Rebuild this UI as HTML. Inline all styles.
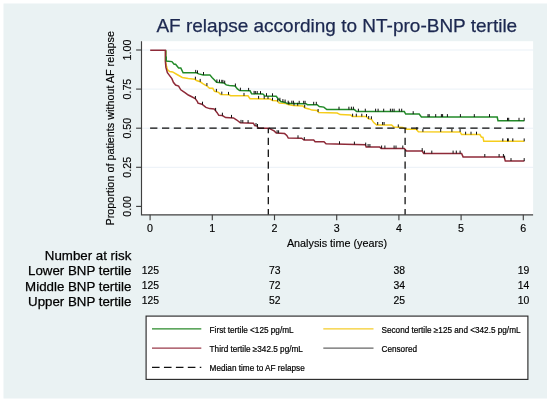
<!DOCTYPE html>
<html><head><meta charset="utf-8"><title>AF relapse according to NT-pro-BNP tertile</title>
<style>html,body{margin:0;padding:0;background:#fff}body{width:550px;height:402px;overflow:hidden}</style></head>
<body>
<svg width="550" height="402" viewBox="0 0 550 402" style="display:block" font-family="'Liberation Sans', Arial, Helvetica, sans-serif">
<rect x="0" y="0" width="550" height="402" fill="#ffffff"/>
<rect x="3.5" y="3.5" width="543.5" height="395" fill="#eaf2f3"/>
<rect x="141.5" y="41.2" width="391.6" height="173.8" fill="#ffffff"/>
<line x1="141.5" x2="533.1" y1="167.3" y2="167.3" stroke="#eaf1f7" stroke-width="1"/>
<line x1="141.5" x2="533.1" y1="128.2" y2="128.2" stroke="#eaf1f7" stroke-width="1"/>
<line x1="141.5" x2="533.1" y1="89.1" y2="89.1" stroke="#eaf1f7" stroke-width="1"/>
<line x1="141.5" x2="533.1" y1="50.0" y2="50.0" stroke="#eaf1f7" stroke-width="1"/>
<g stroke="#404040" stroke-width="1.15" fill="none">
<path d="M141.5,41.2V214.8H533.1"/>
<path d="M141.5,206.4h-5.4"/>
<path d="M141.5,167.3h-5.4"/>
<path d="M141.5,128.2h-5.4"/>
<path d="M141.5,89.1h-5.4"/>
<path d="M141.5,50.0h-5.4"/>
<path d="M150.1,214.8v5.4"/>
<path d="M212.3,214.8v5.4"/>
<path d="M274.5,214.8v5.4"/>
<path d="M336.7,214.8v5.4"/>
<path d="M398.9,214.8v5.4"/>
<path d="M461.1,214.8v5.4"/>
<path d="M523.3,214.8v5.4"/>
</g>
<g font-size="10.7" fill="#000" stroke="#000" stroke-width="0.15" text-anchor="middle">
<text transform="translate(131.2,206.4) rotate(-90)">0.00</text>
<text transform="translate(131.2,167.3) rotate(-90)">0.25</text>
<text transform="translate(131.2,128.2) rotate(-90)">0.50</text>
<text transform="translate(131.2,89.1) rotate(-90)">0.75</text>
<text transform="translate(131.2,50.0) rotate(-90)">1.00</text>
<text x="150.1" y="231.6">0</text>
<text x="212.3" y="231.6">1</text>
<text x="274.5" y="231.6">2</text>
<text x="336.7" y="231.6">3</text>
<text x="398.9" y="231.6">4</text>
<text x="461.1" y="231.6">5</text>
<text x="523.3" y="231.6">6</text>
</g>
<text transform="translate(113.5,128.2) rotate(-90)" font-size="10.8" text-anchor="middle" fill="#000" stroke="#000" stroke-width="0.15">Proportion of patients without AF relapse</text>
<text x="337" y="247" font-size="10.8" text-anchor="middle" fill="#000" stroke="#000" stroke-width="0.15">Analysis time (years)</text>
<text x="336.8" y="32" font-size="19" text-anchor="middle" fill="#1c2850" stroke="#1c2850" stroke-width="0.25">AF relapse according to NT-pro-BNP tertile</text>
<path d="M165.6,50.3L165.6,62.0L166.5,66.0L167.4,69.6L169.6,71.6L172.6,71.9L177.0,74.5L182.3,77.5L188.3,78.6L195.0,79.3L196.5,80.5L200.2,81.8L203.2,83.8L207.0,86.0L209.5,88.3L212.8,88.3L214.5,91.3L218.6,92.4L220.6,94.4L229.0,94.8L230.5,95.7L248.0,95.8L250.0,98.7L270.2,99.0L272.5,100.5L276.9,100.8L279.2,103.1L285.9,103.5L288.1,104.5L293.2,105.6L302.9,105.9L305.1,108.1L308.9,108.9L311.9,110.1L317.1,110.4L318.6,112.6L337.2,113.0L340.2,114.6L350.7,114.9L352.2,116.6L366.2,116.6L368.4,118.9L371.4,119.2L373.7,122.6L376.6,124.9L391.6,124.9L393.8,127.1L402.8,127.5L406.5,129.2L416.2,129.2L418.4,131.8L460.1,131.9L461.6,134.6L479.9,134.6L481.4,137.1L483.0,137.4L483.8,141.3L524.4,141.3" stroke="#f6cd1c" stroke-width="1.5" fill="none" stroke-linejoin="miter"/>
<path d="M165.8,50.3L165.8,61.1L171.9,61.6L174.1,64.2L175.6,64.2L178.6,67.9L180.8,67.9L183.1,72.8L196.5,72.8L198.7,73.9L203.2,74.9L209.9,74.9L212.0,77.5L214.0,79.5L216.6,82.3L224.0,82.9L226.2,84.9L229.2,85.6L235.1,86.0L237.4,88.9L239.6,90.6L250.1,90.8L251.6,93.8L262.8,94.0L265.0,96.1L276.2,96.3L278.4,99.0L280.7,101.6L285.1,102.4L287.2,103.6L305.9,103.7L307.4,104.7L317.1,104.7L319.3,106.6L323.8,107.1L326.8,109.6L354.4,109.6L356.6,111.6L404.3,111.6L405.7,114.1L419.2,114.1L421.4,117.0L497.2,117.0L498.0,120.7L524.4,120.7" stroke="#228a28" stroke-width="1.5" fill="none" stroke-linejoin="miter"/>
<path d="M150.2,50.3L165.4,50.3L165.4,61.4L165.9,67.4L167.4,72.6L169.6,75.6L171.9,78.6L173.4,82.3L175.6,85.0L178.6,86.0L180.8,89.8L183.1,91.3L185.3,92.8L188.3,95.0L191.3,96.5L195.2,98.6L197.4,101.5L198.0,103.1L202.0,104.2L205.9,107.4L209.6,108.6L214.1,108.9L217.1,112.7L218.8,115.3L222.4,115.6L225.6,117.6L233.5,117.9L236.8,120.0L240.3,122.8L253.4,123.2L254.7,125.7L256.9,126.1L258.4,128.2L268.9,128.2L271.1,129.4L274.1,130.9L276.3,133.1L284.6,133.6L286.8,135.4L288.3,138.1L301.7,138.2L304.0,140.0L313.7,140.0L315.1,141.7L324.0,141.8L326.0,143.8L345.0,144.3L365.4,144.7L366.2,146.9L379.6,146.9L381.1,148.4L404.3,148.4L406.5,151.0L422.2,151.0L423.7,153.5L461.6,153.5L463.1,156.9L504.1,156.9L505.3,161.0L524.4,161.0" stroke="#8e2a38" stroke-width="1.5" fill="none" stroke-linejoin="miter"/>
<path d="M195.7,72.8v-2.9M197.5,73.3v-2.9M203.5,74.9v-2.9M216.9,82.3v-2.9M219.5,82.5v-2.9M221.8,82.7v-2.9M222.9,82.8v-2.9M224.7,83.5v-2.9M235.4,86.4v-2.9M240.4,90.6v-2.9M248.6,90.8v-2.9M254.1,93.8v-2.9M255.3,93.9v-2.9M257.2,93.9v-2.9M260.5,94.0v-2.9M266.5,96.1v-2.9M272.5,96.2v-2.9M279.9,100.7v-2.9M282.9,102.0v-2.9M285.1,102.4v-2.9M288.2,103.6v-2.9M291.8,103.6v-2.9M293.4,103.6v-2.9M299.2,103.7v-2.9M303.7,103.7v-2.9M305.1,103.7v-2.9M313.7,104.7v-2.9M316.3,104.7v-2.9M339.0,109.6v-2.9M348.9,109.6v-2.9M351.4,109.6v-2.9M353.4,109.6v-2.9M358.4,111.6v-2.9M365.3,111.6v-2.9M375.6,111.6v-2.9M378.1,111.6v-2.9M383.7,111.6v-2.9M390.4,111.6v-2.9M392.3,111.6v-2.9M394.1,111.6v-2.9M399.3,111.6v-2.9M401.7,111.6v-2.9M413.2,114.1v-2.9M428.0,117.0v-2.9M429.2,117.0v-2.9M435.7,117.0v-2.9M441.4,117.0v-2.9M442.6,117.0v-2.9M447.4,117.0v-2.9M460.4,117.0v-2.9M474.3,117.0v-2.9M489.5,117.0v-2.9M507.5,120.7v-2.9M508.7,120.7v-2.9M519.0,120.7v-2.9M524.2,120.7v-2.9" stroke="#111" stroke-width="1.0" fill="none"/>
<path d="M195.4,79.6v-2.9M200.2,81.8v-2.9M206.9,85.9v-2.9M216.4,91.8v-2.9M221.8,94.5v-2.9M228.5,94.8v-2.9M244.0,95.8v-2.9M258.6,98.8v-2.9M264.2,98.9v-2.9M268.0,99.0v-2.9M272.5,100.5v-2.9M277.7,101.6v-2.9M288.9,104.7v-2.9M294.0,105.6v-2.9M297.7,105.7v-2.9M304.7,107.7v-2.9M318.1,111.9v-2.9M352.6,116.6v-2.9M356.3,116.6v-2.9M361.8,116.6v-2.9M366.5,116.9v-2.9M368.7,118.9v-2.9M371.4,119.2v-2.9M377.7,124.9v-2.9M382.6,124.9v-2.9M384.1,124.9v-2.9M398.3,127.3v-2.9M416.9,130.0v-2.9M422.9,131.8v-2.9M440.7,131.9v-2.9M451.9,131.9v-2.9M460.1,131.9v-2.9M465.6,134.6v-2.9M471.0,134.6v-2.9M476.5,134.6v-2.9M502.8,141.3v-2.9M507.5,141.3v-2.9M508.3,141.3v-2.9M512.8,141.3v-2.9M524.2,141.3v-2.9" stroke="#111" stroke-width="1.0" fill="none"/>
<path d="M195.4,98.9v-2.9M202.5,104.6v-2.9M215.6,110.8v-2.9M222.4,115.6v-2.9M231.5,117.8v-2.9M241.0,122.8v-2.9M242.8,122.9v-2.9M248.1,123.0v-2.9M256.0,125.9v-2.9M257.5,126.9v-2.9M277.1,133.1v-2.9M278.6,133.2v-2.9M298.0,138.2v-2.9M304.3,140.0v-2.9M339.5,144.2v-2.9M354.4,144.5v-2.9M365.7,145.5v-2.9M368.1,146.9v-2.9M369.9,146.9v-2.9M381.6,148.4v-2.9M384.9,148.4v-2.9M394.1,148.4v-2.9M396.0,148.4v-2.9M402.8,148.4v-2.9M422.2,151.0v-2.9M424.4,153.5v-2.9M431.8,153.5v-2.9M453.1,153.5v-2.9M456.3,153.5v-2.9M460.1,153.5v-2.9M484.8,156.9v-2.9M499.1,156.9v-2.9M503.4,156.9v-2.9M504.6,158.6v-2.9M511.0,161.0v-2.9M524.2,161.0v-2.9" stroke="#111" stroke-width="1.0" fill="none"/>
<path d="M166.3,56.5V61.1" stroke="#228a28" stroke-width="1.4" fill="none"/>
<g stroke="#0a0a0a" stroke-width="1.25" fill="none" stroke-dasharray="7.3,4.56">
<path d="M150.1,128.2H524.1"/>
<path d="M268.3,128.2V214.6" stroke-dashoffset="2.3"/>
<path d="M405.1,128.2V214.6" stroke-dashoffset="2.3"/>
</g>
<g font-size="13.3" fill="#000" stroke="#000" stroke-width="0.25" text-anchor="end">
<text x="131.3" y="259.5">Number at risk</text>
<text x="131.3" y="275">Lower BNP tertile</text>
<text x="131.3" y="290.5">Middle BNP tertile</text>
<text x="131.3" y="305.9">Upper BNP tertile</text>
</g>
<g font-size="10.4" fill="#000" stroke="#000" stroke-width="0.15" text-anchor="middle">
<text x="150.4" y="273.7">125</text>
<text x="274.8" y="273.7">73</text>
<text x="399.2" y="273.7">38</text>
<text x="523.6" y="273.7">19</text>
<text x="150.4" y="289">125</text>
<text x="274.8" y="289">72</text>
<text x="399.2" y="289">34</text>
<text x="523.6" y="289">14</text>
<text x="150.4" y="304.3">125</text>
<text x="274.8" y="304.3">52</text>
<text x="399.2" y="304.3">25</text>
<text x="523.6" y="304.3">10</text>
</g>
<rect x="146.1" y="316.1" width="381.8" height="63.3" fill="#ffffff" stroke="#2a2a2a" stroke-width="1.15"/>
<g stroke-width="1.25" fill="none">
<path d="M152,328.8H201.3" stroke="#2a8a2a"/>
<path d="M323.3,328.8H373.5" stroke="#f4cc2a"/>
<path d="M152,348.1H201.3" stroke="#9a3a4a"/>
<path d="M323.3,348.1H373.5" stroke="#666"/>
<path d="M152,367.3H201.3" stroke="#111" stroke-dasharray="7.6,4.34"/>
</g>
<g font-size="8.2" fill="#000" stroke="#000" stroke-width="0.2">
<text x="209.6" y="332.8">First tertile &lt;125 pg/mL</text>
<text x="381.5" y="332.8">Second tertile ≥125 and &lt;342.5 pg/mL</text>
<text x="209.6" y="351.7">Third tertile ≥342.5 pg/mL</text>
<text x="381.5" y="351.7">Censored</text>
<text x="209.6" y="371">Median time to AF relapse</text>
</g>
</svg>
</body></html>
